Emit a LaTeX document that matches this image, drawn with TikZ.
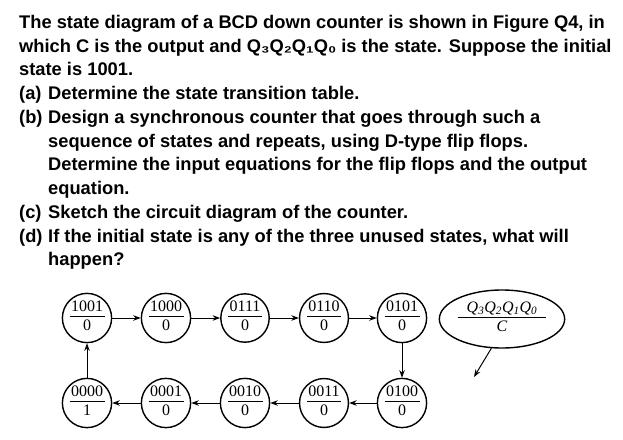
\documentclass[tikz,border=0pt]{standalone}
\usepackage{fontspec}
\setmainfont{Liberation Sans}
\newfontfamily\seriffam{Liberation Serif}
\usetikzlibrary{shapes.geometric,arrows.meta}
\tikzset{
  txt/.style={anchor=base west,inner sep=0pt,font=\fontsize{18.3}{21}\selectfont\bfseries},
  st/.style={circle,draw,line width=1.4pt,minimum size=46pt,inner sep=0pt,
    font=\fontsize{16}{17}\selectfont\seriffam},
  conn/.style={line width=1pt,-{Stealth[length=7.5pt,width=5.5pt]}},
}
\setlength{\arrayrulewidth}{0.9pt}
\newcommand{\frc}[2]{\renewcommand\arraystretch{0.9}\begin{tabular}{@{\hspace{1.5pt}}c@{\hspace{1.5pt}}}#1\\[0pt]\hline\rule{0pt}{14pt}#2\end{tabular}}
\begin{document}
\begin{tikzpicture}[x=1pt,y=-1pt]
\useasboundingbox (0,0) rectangle (623,439);
\node[txt] (l1) at (19,28.3) {The state diagram of a BCD down counter is shown in Figure Q4, in};
\node[txt] (l2) at (19,52.1) {which C is the output and Q₃Q₂Q₁Q₀ is the state. Suppose the initial};
\node[txt] (l3) at (19,75.8) {state is 1001.};
\node[txt] (a1) at (19,99.6) {(a)};
\node[txt] (a2) at (48,99.6) {Determine the state transition table.};
\node[txt] (b1) at (19,123.3) {(b)};
\node[txt] (b2) at (48,123.3) {Design a synchronous counter that goes through such a};
\node[txt] (b3) at (48,147.1) {sequence of states and repeats, using D-type flip flops.};
\node[txt] (b4) at (48,170.8) {Determine the input equations for the flip flops and the output};
\node[txt] (b5) at (48,194.5) {equation.};
\node[txt] (c1) at (19,218.3) {(c)};
\node[txt] (c2) at (48,218.3) {Sketch the circuit diagram of the counter.};
\node[txt] (d1) at (19,242) {(d)};
\node[txt] (d2) at (48,242) {If the initial state is any of the three unused states, what will};
\node[txt] (d3) at (48,265.7) {happen?};

\node[st] (s9) at (87,318) {\frc{1001}{0}};
\node[st] (s8) at (166,318) {\frc{1000}{0}};
\node[st] (s7) at (245,318) {\frc{0111}{0}};
\node[st] (s6) at (324,318) {\frc{0110}{0}};
\node[st] (s5) at (402,318) {\frc{0101}{0}};
\node[st] (s4) at (402,403) {\frc{0100}{0}};
\node[st] (s3) at (324,403) {\frc{0011}{0}};
\node[st] (s2) at (245,403) {\frc{0010}{0}};
\node[st] (s1) at (166,403) {\frc{0001}{0}};
\node[st] (s0) at (87,403) {\frc{0000}{1}};

\node[ellipse,draw,line width=1.4pt,minimum width=122pt,minimum height=58pt,inner sep=0pt,
  font=\fontsize{16}{17}\selectfont\seriffam\itshape] (key) at (502,319)
  {\renewcommand\arraystretch{0.9}\begin{tabular}{@{\hspace{9pt}}c@{\hspace{9pt}}}Q\textsubscript{3}Q\textsubscript{2}Q\textsubscript{1}Q\textsubscript{0}\\[0pt]\hline\rule{0pt}{14pt}C\end{tabular}};
\coordinate (kend) at (474,377);

\draw[conn] (s9) -- (s8);
\draw[conn] (s8) -- (s7);
\draw[conn] (s7) -- (s6);
\draw[conn] (s6) -- (s5);
\draw[conn] (s5) -- (s4);
\draw[conn] (s4) -- (s3);
\draw[conn] (s3) -- (s2);
\draw[conn] (s2) -- (s1);
\draw[conn] (s1) -- (s0);
\draw[conn] (s0) -- (s9);
\draw[conn] (key.250) -- (kend);
\end{tikzpicture}
\end{document}
